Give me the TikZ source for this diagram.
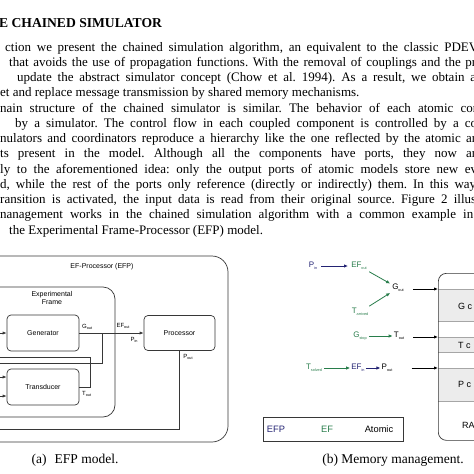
\documentclass[tikz,border=0pt]{standalone}
\usepackage{fontspec}
\setmainfont{Liberation Serif}
\newfontfamily\arial{Liberation Sans}
\usetikzlibrary{arrows.meta,calc}
\definecolor{navy}{RGB}{35,35,115}
\definecolor{efg}{RGB}{40,125,75}
\definecolor{lin}{RGB}{55,55,55}
\definecolor{memfill}{RGB}{236,236,236}
\newcommand\mysub[1]{\raisebox{-0.2em}{\fontsize{3.8}{4}\selectfont #1}}
\frenchspacing
\begin{document}
\begin{tikzpicture}[x=1pt,y=-1pt,
  bodytxt/.style={anchor=base west,inner sep=0pt,font=\fontsize{13}{15}\selectfont},
  box/.style={draw=lin,line width=0.7pt,rounded corners=4pt,font=\arial\fontsize{7}{8}\selectfont},
  lbl/.style={inner sep=0pt,font=\arial\fontsize{7}{8}\selectfont},
  port/.style={inner sep=0pt,font=\arial\fontsize{6}{7}\selectfont},
  wire/.style={draw=lin,line width=0.7pt},
  arr/.style={wire,-{Latex[length=4pt,width=3.2pt]}},
  rl/.style={inner sep=1pt,font=\arial\fontsize{8}{9}\selectfont},
  garr/.style={draw=efg,line width=0.8pt,-{Latex[length=4pt,width=3.4pt]}},
  narr/.style={draw=navy,line width=0.8pt,-{Latex[length=4pt,width=3.4pt]}},
  karr/.style={draw=black,line width=0.8pt,-{Latex[length=4pt,width=3.4pt]}},
  memtxt/.style={anchor=west,inner sep=0pt,font=\arial\fontsize{9}{10}\selectfont},
  legtxt/.style={inner sep=0pt,font=\arial\fontsize{9.3}{10}\selectfont},
  captxt/.style={anchor=base,inner sep=0pt,font=\fontsize{13.5}{15}\selectfont}]
\useasboundingbox (0,0) rectangle (474,474);
\fill[white] (0,0) rectangle (474,474);

% ---------- text ----------
\node[bodytxt,font=\fontsize{13.6}{15}\selectfont\bfseries] (head) at (-1,27) {E CHAINED SIMULATOR};
\node[bodytxt] (l1) at (5,51) {\makebox[473pt][s]{ction we present the chained simulation algorithm, an equivalent to the classic PDEV}};
\node[bodytxt] (l2) at (9,66.25) {\makebox[467pt][s]{that avoids the use of propagation functions. With the removal of couplings and the pr}};
\node[bodytxt] (l3) at (17,81.5) {\makebox[459pt][s]{update the abstract simulator concept (Chow et al. 1994). As a result, we obtain a}};
\node[bodytxt] (l4) at (0,96.75) {et and replace message transmission by shared memory mechanisms.};
\node[bodytxt] (l5) at (0,112) {\makebox[477pt][s]{nain structure of the chained simulator is similar. The behavior of each atomic cor}};
\node[bodytxt] (l6) at (15,127.25) {\makebox[462pt][s]{by a simulator. The control flow in each coupled component is controlled by a co}};
\node[bodytxt] (l7) at (0,142.5) {\makebox[476pt][s]{nulators and coordinators reproduce a hierarchy like the one reflected by the atomic ar}};
\node[bodytxt] (l8) at (0,157.75) {\makebox[476pt][s]{ts present in the model. Although all the components have ports, they now ar}};
\node[bodytxt] (l9) at (0,173) {\makebox[477pt][s]{ly to the aforementioned idea: only the output ports of atomic models store new ev}};
\node[bodytxt] (l10) at (0,188.25) {\makebox[476pt][s]{d, while the rest of the ports only reference (directly or indirectly) them. In this way}};
\node[bodytxt] (l11) at (0,203.5) {\makebox[476pt][s]{ransition is activated, the input data is read from their original source. Figure 2 illus}};
\node[bodytxt] (l12) at (0,218.75) {\makebox[473pt][s]{nanagement works in the chained simulation algorithm with a common example in}};
\node[bodytxt] (l13) at (9,234) {the Experimental Frame-Processor (EFP) model.};

% ---------- (a) EFP model ----------
\node[box,rounded corners=16pt,minimum width=248pt,minimum height=186pt] (efp) at (104,349) {};
\node[box,rounded corners=12pt,minimum width=135pt,minimum height=130pt] (ef) at (47.5,352) {};
\node[lbl] (efpt) at (102,267) {EF-Processor (EFP)};
\node[lbl,align=center] (eft) at (52,298) {Experimental\\Frame};
\node[box,minimum width=72pt,minimum height=36pt] (gen) at (43,333) {Generator};
\node[box,minimum width=72pt,minimum height=36pt] (trans) at (43,387) {Transducer};
\node[box,minimum width=71pt,minimum height=35pt] (proc) at (179.5,333) {Processor};

\coordinate (gin) at (-5,333);
\coordinate (tin1) at (-5,377);
\coordinate (tin2) at (-5,396);
\draw[arr] (gin) -- (gen.west);
\draw[arr] (tin1) -- (tin1 -| trans.west);
\draw[arr] (tin2) -- (tin2 -| trans.west);
\draw[arr] (gen.east) -- (proc.west);
\coordinate (gb) at (102,333);
\coordinate (gl) at (-5,363);
\draw[wire] (gb) |- (gl);
\coordinate (tl) at (-5,357);
\draw[wire] (trans.east) -- ++(11,0) |- (tl);
\coordinate (pl) at (-5,429);
\draw[wire] (proc.south) |- (pl);

\node[port,anchor=west] (goutl) at (82,327) {G\mysub{out}};
\node[port] (efoutl) at (123,326) {EF\mysub{out}};
\node[port] (pinl) at (134,340) {P\mysub{in}};
\node[port,anchor=west] (toutl) at (82,394) {T\mysub{out}};
\node[port] (poutl) at (188,357) {P\mysub{out}};

\node[captxt] (capa) at (75,463) {(a)\hspace{0.6em}EFP model.};

% ---------- (b) Memory management ----------
\fill[memfill] (438,289) rectangle (500,321);
\fill[memfill] (438,337) rectangle (500,352);
\fill[memfill] (438,368) rectangle (500,401);
\foreach \yy in {289,321,337,352,368,401} \draw[gray!70,line width=0.6pt] (438,\yy) -- (500,\yy);
\node[draw=lin,line width=0.7pt,rounded corners=8pt,minimum width=62pt,minimum height=167pt,anchor=north west,inner sep=0pt] (mem) at (438,273) {};
\node[memtxt] (mg) at (458,306) {G c};
\node[memtxt] (mt) at (458,345) {T c};
\node[memtxt] (mp) at (458,384) {P c};
\node[memtxt] (mr) at (462,425) {RA};

\node[rl,text=navy] (pin) at (313,266) {P\mysub{in}};
\node[rl,text=efg] (efout) at (359,266) {EF\mysub{out}};
\node[rl] (gout) at (398,288) {G\mysub{out}};
\node[rl,text=efg] (tarr) at (360,312) {T\mysub{arrived}};
\node[rl,text=efg] (gstop) at (360,336) {G\mysub{stop}};
\node[rl] (tout) at (399,336) {T\mysub{out}};
\node[rl,text=efg] (tsol) at (314,368) {T\mysub{solved}};
\node[rl,text=navy] (efin) at (358,368) {EF\mysub{in}};
\node[rl] (pout) at (387,368) {P\mysub{out}};

\draw[narr,shorten <=3pt,shorten >=2pt] (pin) -- (efout);
\draw[garr,shorten <=2pt,shorten >=1pt] (efout) -- (gout);
\draw[garr,shorten <=2pt,shorten >=1pt] (tarr) -- (gout);
\draw[garr,shorten <=1pt] (gstop) -- (tout);
\draw[garr,shorten <=1pt] (tsol) -- (efin);
\draw[narr] (efin) -- (pout);
\coordinate (mg1) at (438,289);
\coordinate (mt1) at (438,337);
\coordinate (mp1) at (438,368);
\draw[karr,shorten <=8pt] (gout.east |- mg1) -- (mg1);
\draw[karr,shorten <=8pt] (tout.east |- mt1) -- (mt1);
\draw[karr,shorten <=18pt] (pout.east |- mp1) -- (mp1);

\node[draw=lin,line width=0.8pt,minimum width=140pt,minimum height=24pt,inner sep=0pt] (legend) at (333,429) {};
\node[legtxt,text=navy] (lg1) at (276,429) {EFP};
\node[legtxt,text=efg] (lg2) at (327,429) {EF};
\node[legtxt] (lg3) at (379,429) {Atomic};

\node[captxt] (capb) at (393,463) {(b) Memory management.};
\end{tikzpicture}
\end{document}
